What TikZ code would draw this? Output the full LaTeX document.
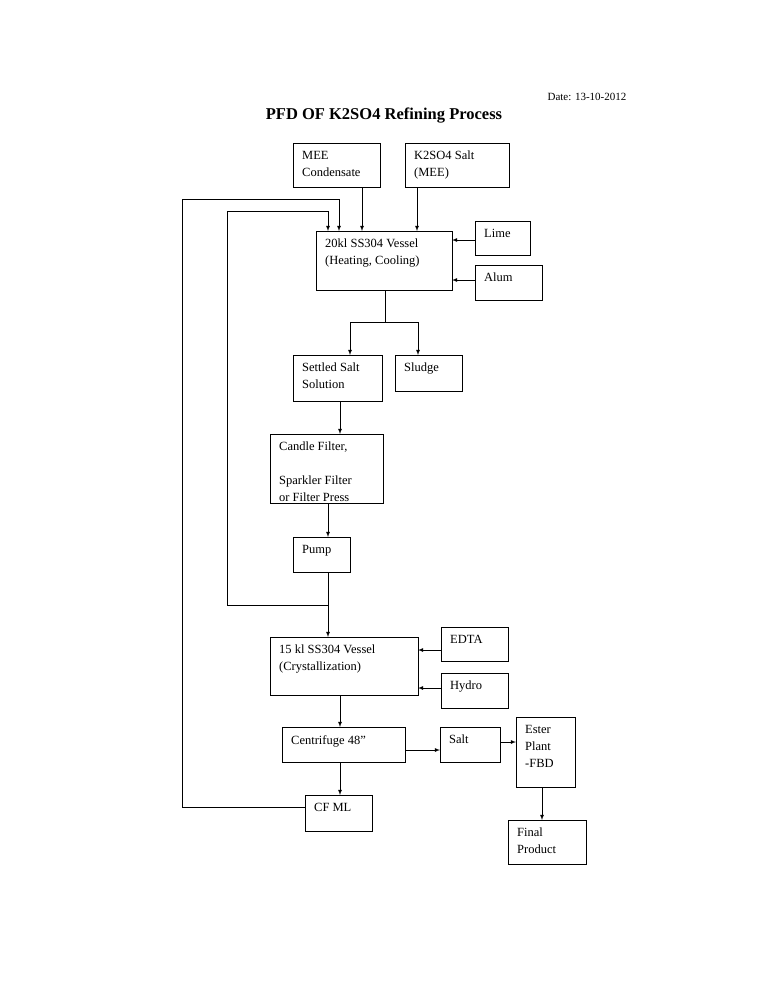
\documentclass[tikz,border=0pt]{standalone}
\usepackage{fontspec}
\setmainfont{Liberation Serif}
\begin{document}
\begin{tikzpicture}[x=1pt,y=-1pt,
 bx/.style={draw,thick},
 tx/.style={anchor=north west,align=left,font=\fontsize{12.5}{17}\selectfont,inner sep=0pt},
 ar/.style={-latex,thick},ln/.style={thick}]
\useasboundingbox (0,0) rectangle (768,994);
\newcommand\bx[6]{\draw[bx] (#2,#3) rectangle (#4,#5); \node[tx] (#1) at (#2+9,#3+8) {#6};
 \coordinate (#1-nw) at (#2,#3); \coordinate (#1-se) at (#4,#5);}
\node[font=\fontsize{11}{13}\selectfont] (date) at (587,97) {Date: 13-10-2012};
\node[font=\bfseries\fontsize{16.5}{20}\selectfont] (title) at (384,116) {PFD OF K2SO4 Refining Process};
\bx{mee}{293}{143}{380}{187}{MEE\\Condensate}
\bx{k2}{405}{143}{509}{187}{K2SO4 Salt\\(MEE)}
\bx{v20}{316}{231}{452}{290}{20kl SS304 Vessel\\(Heating, Cooling)}
\bx{lime}{475}{221}{530}{255}{Lime}
\bx{alum}{475}{265}{542}{300}{Alum}
\bx{set}{293}{355}{382}{401}{Settled Salt\\Solution}
\bx{sl}{395}{355}{462}{391}{Sludge}
\bx{cf}{270}{434}{383}{503}{Candle Filter,\\[17pt]Sparkler Filter\\or Filter Press}
\bx{pump}{293}{537}{350}{572}{Pump}
\bx{v15}{270}{637}{418}{695}{15 kl SS304 Vessel\\(Crystallization)}
\bx{edta}{441}{627}{508}{661}{EDTA}
\bx{hy}{441}{673}{508}{708}{Hydro}
\bx{cen}{282}{727}{405}{762}{Centrifuge 48''}
\bx{salt}{440}{727}{500}{762}{Salt}
\bx{est}{516}{717}{575}{787}{Ester\\Plant\\-FBD}
\bx{cfml}{305}{795}{372}{831}{CF ML}
\bx{fin}{508}{820}{586}{864}{Final\\Product}
\draw[ar] (362,187) -- (362,231);
\draw[ar] (417,187) -- (417,231);
\draw[ar] (475,240) -- (452,240);
\draw[ar] (475,280) -- (452,280);
\draw[ln] (385,290) -- (385,322);
\draw[ln] (350,322) -- (418,322);
\draw[ar] (350,322) -- (350,355);
\draw[ar] (418,322) -- (418,355);
\draw[ar] (340,401) -- (340,434);
\draw[ar] (328,503) -- (328,537);
\draw[ar] (328,572) -- (328,637);
\draw[ar] (328,605) -- (227,605) -- (227,211) -- (328,211) -- (328,231);
\draw[ar] (305,807) -- (182,807) -- (182,199) -- (339,199) -- (339,231);
\draw[ar] (441,650) -- (418,650);
\draw[ar] (441,688) -- (418,688);
\draw[ar] (340,695) -- (340,727);
\draw[ar] (340,762) -- (340,795);
\draw[ar] (405,750) -- (440,750);
\draw[ar] (500,742) -- (516,742);
\draw[ar] (542,787) -- (542,820);
\end{tikzpicture}
\end{document}
